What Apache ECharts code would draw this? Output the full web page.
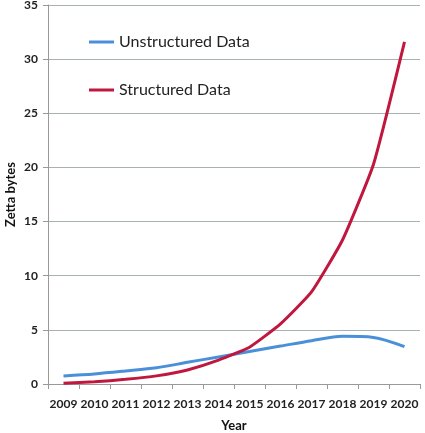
<!DOCTYPE html>
<html><head><meta charset="utf-8">
<script src="https://cdn.jsdelivr.net/npm/echarts@6/dist/echarts.min.js"></script>
<style>html,body{margin:0;padding:0;background:#fff}#c{width:425px;height:433px}</style>
</head><body><div id="c"></div>
<script>
var years = ['2009','2010','2011','2012','2013','2014','2015','2016','2017','2018','2019','2020'];
var unstructured = [0.75, 0.93, 1.2, 1.5, 2.0, 2.5, 3.0, 3.5, 4.0, 4.4, 4.3, 3.45];
var structured = [0.07, 0.2, 0.43, 0.75, 1.3, 2.2, 3.4, 5.55, 8.5, 13.3, 20.3, 31.6];
var yTicks = [0, 5, 10, 15, 20, 25, 30, 35];
var font = 'Lato, "Open Sans", sans-serif';
var chart = echarts.init(document.getElementById('c'));
chart.setOption({
  animation: false,
  grid: {left: 48, right: 5, top: 5, bottom: 49, containLabel: false, outerBoundsMode: 'none'},
  legend: {
    orient: 'vertical', left: 84, top: 27,
    itemWidth: 25, itemHeight: 3, itemGap: 28, icon: 'rect',
    textStyle: {fontFamily: font, fontSize: 16, color: '#222', lineHeight: 20},
    data: ['Unstructured Data', 'Structured Data']
  },
  xAxis: {
    type: 'category', data: years, boundaryGap: true,
    name: 'Year', nameLocation: 'middle', nameGap: 35, nameMoveOverlap: false,
    nameTextStyle: {fontFamily: font, fontSize: 13, fontWeight: 'bold', color: '#111'},
    axisLine: {lineStyle: {color: '#999', width: 1}},
    axisTick: {show: true, length: 5, interval: 0, lineStyle: {color: '#999'}},
    axisLabel: {interval: 0, fontFamily: font, fontSize: 12, fontWeight: 'bold', color: '#222', margin: 14}
  },
  yAxis: {
    type: 'value', min: yTicks[0], max: yTicks[yTicks.length-1], interval: 5,
    name: 'Zetta bytes', nameLocation: 'middle', nameGap: 31, nameRotate: 90, nameMoveOverlap: false,
    nameTextStyle: {fontFamily: font, fontSize: 13, fontWeight: 'bold', color: '#111'},
    axisLine: {show: true, lineStyle: {color: '#999', width: 1}},
    axisTick: {show: true, length: 5, lineStyle: {color: '#999'}},
    axisLabel: {fontFamily: font, fontSize: 12, fontWeight: 'bold', color: '#222', margin: 10},
    splitLine: {lineStyle: {color: '#a9b2b2', width: 1}}
  },
  series: [
    {name: 'Unstructured Data', type: 'line', data: unstructured, smooth: 0.3, showSymbol: false,
     itemStyle: {color: '#4a90d9'}, lineStyle: {color: '#4a90d9', width: 3}},
    {name: 'Structured Data', type: 'line', data: structured, smooth: 0.15, showSymbol: false,
     itemStyle: {color: '#c0173f'}, lineStyle: {color: '#c0173f', width: 3}}
  ]
});
</script></body></html>
